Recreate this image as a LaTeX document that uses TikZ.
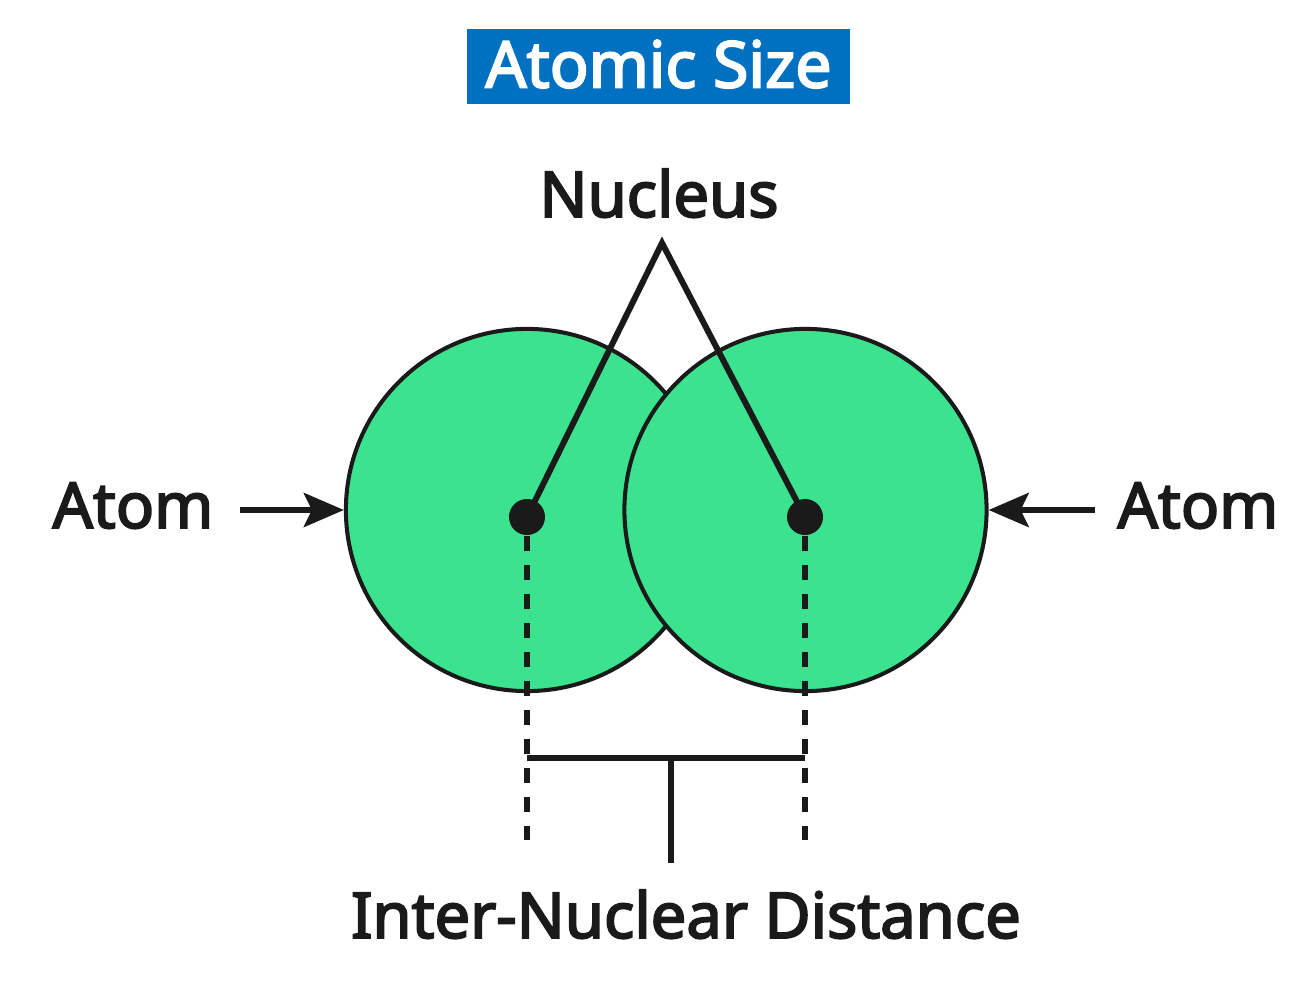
\documentclass[tikz,border=0pt]{standalone}
\usepackage{fontspec}
\setmainfont{Noto Sans}
\newfontfamily\labfont[FakeBold=3]{Noto Sans}
\usetikzlibrary{arrows.meta}
\definecolor{atomgreen}{HTML}{3BE38F}
\definecolor{titleblue}{HTML}{0070C0}
\definecolor{ink}{HTML}{1A1A1A}
\tikzset{
  atomcirc/.style={circle, draw=ink, fill=atomgreen, line width=1.15pt, minimum size=3.62cm, inner sep=0pt},
  nucdot/.style={circle, fill=ink, minimum size=0.36cm, inner sep=0pt},
  lbl/.style={font=\labfont\fontsize{18}{20}\selectfont, text=ink, anchor=base, inner sep=0pt},
  pointer/.style={draw=ink, line width=1.7pt},
  arrowline/.style={draw=ink, line width=1.7pt, -{Stealth[length=0.4cm, width=0.34cm, inset=0.08cm]}},
  dashline/.style={draw=ink, line width=1.7pt, dash pattern=on 0.15cm off 0.14cm},
}
\begin{document}
\begin{tikzpicture}[x=0.01cm, y=-0.01cm]
\useasboundingbox (0,0) rectangle (1300,982);
% title
\node[fill=titleblue, text=white, minimum width=3.83cm, minimum height=0.75cm, inner sep=0pt,
      text height=0.47cm, text depth=0.05cm, font=\labfont\fontsize{18.3}{20}\selectfont] (title) at (658.5,66.5) {Atomic Size};
% atoms
\node[atomcirc] (c1) at (527,510) {};
\node[atomcirc] (c2) at (805.5,510) {};
% nuclei
\node[nucdot] (n1) at (527,517) {};
\node[nucdot] (n2) at (805,517) {};
% labels
\node[lbl] (nuclabel) at (659,217) {Nucleus};
\node[lbl] (atomL) at (133,528) {Atom};
\node[lbl] (atomR) at (1198,528) {Atom};
\node[lbl] (dist) at (686,938) {Inter-Nuclear Distance};
% nucleus pointers
\coordinate (apex) at (662,243);
\draw[pointer, line join=miter] (n1.center) -- (apex) -- (n2.center);
% atom arrows
\coordinate (aLs) at (240,510);
\coordinate (aRs) at (1095,510);
\draw[arrowline] (aLs) -- (c1.west);
\draw[arrowline] (aRs) -- (c2.east);
% dashed drop lines
\coordinate (d1) at (527,840);
\coordinate (d2) at (805,840);
\draw[dashline] (n1.south) -- (d1);
\draw[dashline] (n2.south) -- (d2);
% bracket
\coordinate (b1) at (527,758);
\coordinate (b2) at (805,758);
\coordinate (bm) at (671,758);
\coordinate (bt) at (671,863);
\draw[pointer] (b1) -- (b2);
\draw[pointer] (bm) -- (bt);
\end{tikzpicture}
\end{document}
